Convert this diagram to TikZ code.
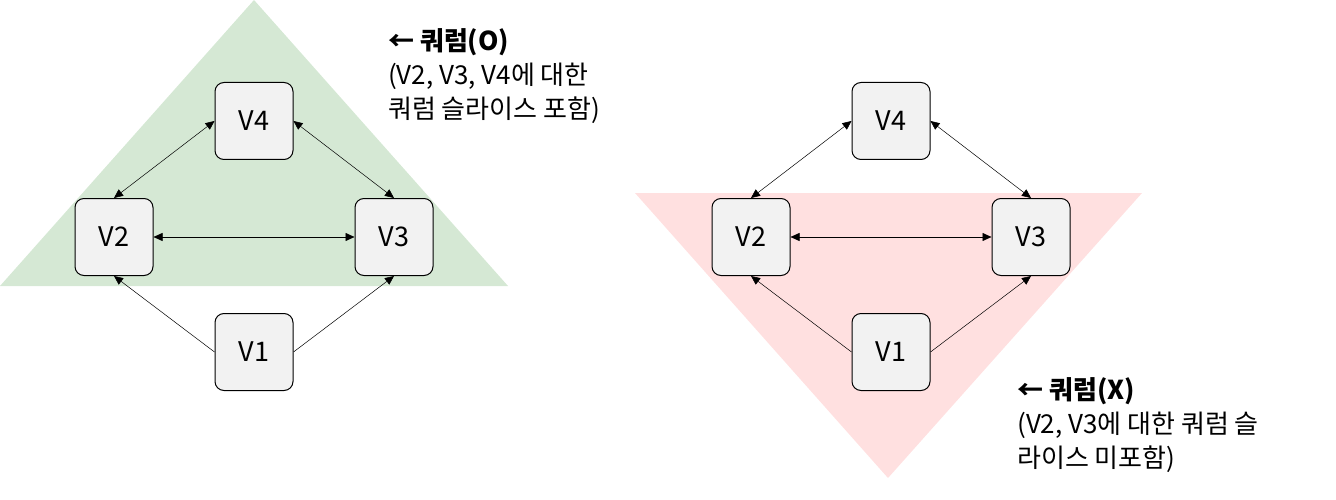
\documentclass[tikz,border=0pt]{standalone}
\usepackage{fontspec}
\setmainfont{Noto Sans CJK KR}
\usetikzlibrary{arrows.meta}
\definecolor{gfill}{HTML}{D5E8D4}
\definecolor{pfill}{HTML}{FFE0E0}
\definecolor{nfill}{HTML}{F2F2F2}
\begin{document}
\begin{tikzpicture}[x=1pt,y=-1pt,
 v/.style={draw=black,fill=nfill,rounded corners=9pt,minimum width=78pt,minimum height=77pt,line width=1pt,font=\fontsize{27}{30}\selectfont},
 e/.style={line width=0.5pt,{Triangle[length=9pt,width=8pt]}-{Triangle[length=9pt,width=8pt]}},
 a/.style={line width=0.5pt,-{Triangle[length=9pt,width=8pt]}},
 lab/.style={anchor=north west,align=left,font=\fontsize{26}{34}\selectfont,inner sep=0pt}]
\useasboundingbox (0,0) rectangle (1336,500);
\fill[gfill] (254,0) -- (508,286) -- (0,286) -- cycle;
\fill[pfill] (635,193) -- (1142,193) -- (888,478) -- cycle;
\node[v] (a4) at (254,121) {V4};
\node[v] (a2) at (114,237) {V2};
\node[v] (a3) at (394,237) {V3};
\node[v] (a1) at (254,352) {V1};
\node[v] (b4) at (891,121) {V4};
\node[v] (b2) at (751,237) {V2};
\node[v] (b3) at (1031,237) {V3};
\node[v] (b1) at (891,352) {V1};
\foreach \p in {a,b}{
 \draw[e] (\p4.west) -- (\p2.north);
 \draw[e] (\p4.east) -- (\p3.north);
 \draw[e] (\p2.east) -- (\p3.west);
 \draw[a] (\p1.west) -- (\p2.south);
 \draw[a] (\p1.east) -- (\p3.south);
}
\node[lab] (t1) at (388,28) {\textbf{← 쿼럼(O)}\\(V2, V3, V4에 대한\\쿼럼 슬라이스 포함)};
\node[lab] (t2) at (1017,377) {\textbf{← 쿼럼(X)}\\(V2, V3에 대한 쿼럼 슬\\라이스 미포함)};
\end{tikzpicture}
\end{document}
